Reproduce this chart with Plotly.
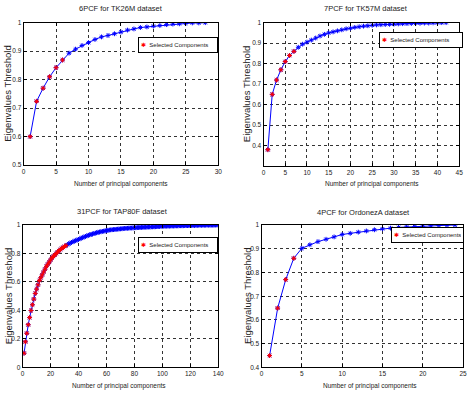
import plotly.graph_objects as go

# ---------------- data ----------------
tk26m_n = list(range(1, 29))
tk26m_vals = [0.600, 0.724, 0.770, 0.810, 0.842, 0.869, 0.893, 0.907, 0.920, 0.930,
              0.941, 0.950, 0.955, 0.961, 0.967, 0.974, 0.978, 0.983, 0.985, 0.988,
              0.990, 0.993, 0.995, 0.996, 0.998, 0.999, 0.999, 1.000]
tk26m_sel = 6

tk57m_n = list(range(1, 43))
tk57m_vals = [0.380, 0.650, 0.720, 0.770, 0.810, 0.840, 0.860, 0.880, 0.895, 0.905,
              0.915, 0.925, 0.935, 0.943, 0.950, 0.955, 0.960, 0.965, 0.970, 0.973,
              0.977, 0.980, 0.983, 0.985, 0.987, 0.989, 0.990, 0.991, 0.992, 0.993,
              0.994, 0.995, 0.996, 0.996, 0.997, 0.997, 0.998, 0.998, 0.999, 0.999,
              1.000, 1.000]
tk57m_sel = 7

tap80f_n = list(range(1, 141))
tap80f_vals = [0.10, 0.18, 0.24, 0.30, 0.35, 0.40, 0.44, 0.48, 0.52, 0.55,
               0.58, 0.61, 0.63, 0.65, 0.67, 0.69, 0.71, 0.725, 0.74, 0.755,
               0.77, 0.78, 0.79, 0.80, 0.81, 0.82, 0.828, 0.836, 0.843, 0.85,
               0.856, 0.862, 0.868, 0.873, 0.878, 0.883, 0.887, 0.891, 0.895, 0.899,
               0.904, 0.908, 0.912, 0.916, 0.920, 0.924, 0.928, 0.931, 0.934, 0.937,
               0.940, 0.943, 0.946, 0.949, 0.951, 0.953, 0.955, 0.957, 0.959, 0.961,
               0.963, 0.965, 0.966, 0.967, 0.968, 0.969, 0.970, 0.971, 0.972, 0.973,
               0.974, 0.975, 0.976, 0.977, 0.977, 0.978, 0.979, 0.979, 0.980, 0.981,
               0.981, 0.982, 0.982, 0.983, 0.983, 0.984, 0.984, 0.985, 0.985, 0.986,
               0.986, 0.987, 0.987, 0.988, 0.988, 0.989, 0.989, 0.990, 0.990, 0.991,
               0.991, 0.991, 0.992, 0.992, 0.992, 0.993, 0.993, 0.993, 0.994, 0.994,
               0.994, 0.995, 0.995, 0.995, 0.995, 0.996, 0.996, 0.996, 0.996, 0.997,
               0.997, 0.997, 0.997, 0.997, 0.998, 0.998, 0.998, 0.998, 0.998, 0.998,
               0.999, 0.999, 0.999, 0.999, 0.999, 0.999, 0.999, 1.000, 1.000, 1.000]
tap80f_sel = 31

ordonez_n = list(range(1, 25))
ordonez_vals = [0.450, 0.650, 0.770, 0.860, 0.902, 0.917, 0.930, 0.940, 0.950, 0.960,
                0.965, 0.970, 0.975, 0.980, 0.984, 0.987, 0.990, 0.992, 0.993, 0.995,
                0.997, 0.998, 0.999, 1.000]
ordonez_sel = 4

titles = ["6PCF for TK26M dataset", "7PCF for TK57M dataset",
          "31PCF for TAP80F dataset", "4PCF for OrdonezA dataset"]
x_title = "Number of principal components"
y_title = "Eigenvalues Threshold"
legend_label = "Selected Components"

# ---------------- layout helpers ----------------
W, H = 474, 396
FONT = "Liberation Sans, Arial, sans-serif"
TXT = "#222"


def px_x(v):
    return v / W


def px_y(v):
    return 1 - v / H


panels = [
    dict(n=tk26m_n, v=tk26m_vals, sel=tk26m_sel, xr=[0, 30], xd=5,
         yr=[0.5, 1.0], yt=[0.5, 0.6, 0.7, 0.8, 0.9, 1.0],
         box=(22, 220, 19, 164), leg=(138, 34, 80, 16),
         tpos=(121, 5), xlpos=(121, 183), ylx=6),
    dict(n=tk57m_n, v=tk57m_vals, sel=tk57m_sel, xr=[0, 45], xd=5,
         yr=[0.3, 1.0], yt=[0.4, 0.5, 0.6, 0.7, 0.8, 0.9, 1.0],
         box=(266, 465, 19, 165), leg=(383, 29, 84, 16),
         tpos=(370, 5), xlpos=(376, 183), ylx=249),
    dict(n=tap80f_n, v=tap80f_vals, sel=tap80f_sel, xr=[0, 140], xd=20,
         yr=[0, 1.0], yt=[0, 0.2, 0.4, 0.6, 0.8, 1.0],
         box=(21, 220, 225, 370), leg=(138, 237, 80, 16),
         tpos=(123, 211), xlpos=(119, 389), ylx=6),
    dict(n=ordonez_n, v=ordonez_vals, sel=ordonez_sel, xr=[0, 25], xd=5,
         yr=[0.4, 1.0], yt=[0.4, 0.5, 0.6, 0.7, 0.8, 0.9, 1.0],
         box=(264, 469, 225, 370), leg=(396, 227, 73, 16),
         tpos=(368, 212), xlpos=(374, 389), ylx=249),
]

fig = go.Figure()
layout = dict(
    width=W, height=H,
    margin=dict(l=0, r=0, t=0, b=0),
    paper_bgcolor="white", plot_bgcolor="white",
    font=dict(family=FONT, size=7, color=TXT),
    showlegend=False,
    annotations=[],
)

for i, p in enumerate(panels):
    k = "" if i == 0 else str(i + 1)
    xa, ya = "x" + k, "y" + k
    x0, x1, yt_, yb_ = p["box"]
    fig.add_trace(go.Scatter(
        x=p["n"], y=p["v"], mode="lines+markers", xaxis=xa, yaxis=ya,
        line=dict(color="#0000ff", width=1),
        marker=dict(symbol="asterisk-open", size=4, color="#0000ff",
                    line=dict(color="#0000ff", width=1)),
        name="Eigenvalues", hoverinfo="x+y"))
    fig.add_trace(go.Scatter(
        x=p["n"][:p["sel"]], y=p["v"][:p["sel"]], mode="markers",
        xaxis=xa, yaxis=ya, name=legend_label,
        marker=dict(symbol="asterisk-open", size=4, color="#ff0000",
                    line=dict(color="#ff0000", width=1))))
    axis_common = dict(showline=True, linecolor="black", linewidth=1, mirror="ticks",
                       ticks="inside", ticklen=3, tickcolor="black",
                       showgrid=True, gridcolor="#333", griddash="dot", gridwidth=1,
                       zeroline=False, tickfont=dict(family=FONT, size=6.5, color=TXT))
    layout["xaxis" + k] = dict(axis_common, domain=[px_x(x0), px_x(x1)], anchor=ya,
                               range=p["xr"], dtick=p["xd"], tick0=0)
    layout["yaxis" + k] = dict(axis_common, domain=[px_y(yb_), px_y(yt_)], anchor=xa,
                               range=p["yr"], tickvals=p["yt"],
                               ticktext=[("%g" % t) for t in p["yt"]])
    # legend box (drawn as a bordered annotation)
    lx, ly, lw, lh = p["leg"]
    layout["annotations"].append(dict(
        text="<span style='color:#ff0000'>✱</span>&nbsp;&nbsp;" + legend_label,
        x=px_x(lx), y=px_y(ly), xref="paper", yref="paper",
        xanchor="left", yanchor="top", showarrow=False, align="left",
        width=lw - 6, height=lh - 6, borderpad=2,
        bgcolor="white", bordercolor="black", borderwidth=1,
        font=dict(family=FONT, size=6, color=TXT)))
    # title
    tx, ty = p["tpos"]
    layout["annotations"].append(dict(
        text=titles[i], x=px_x(tx), y=px_y(ty), xref="paper", yref="paper",
        showarrow=False, xanchor="center", yanchor="middle",
        font=dict(family=FONT, size=7.5, color=TXT)))
    # x label
    xx, xy = p["xlpos"]
    layout["annotations"].append(dict(
        text=x_title, x=px_x(xx), y=px_y(xy), xref="paper", yref="paper",
        showarrow=False, xanchor="center", yanchor="middle",
        font=dict(family=FONT, size=6.5, color=TXT)))
    # y label
    layout["annotations"].append(dict(
        text=y_title, x=px_x(p["ylx"]), y=px_y((yt_ + yb_) / 2), xref="paper", yref="paper",
        showarrow=False, xanchor="center", yanchor="middle", textangle=-90,
        font=dict(family=FONT, size=9.5, color=TXT)))

fig.update_layout(**layout)
fig.write_html("out.html",
               config={"displayModeBar": False},
               post_script="document.body.style.margin='0';document.body.style.overflow='hidden';")
